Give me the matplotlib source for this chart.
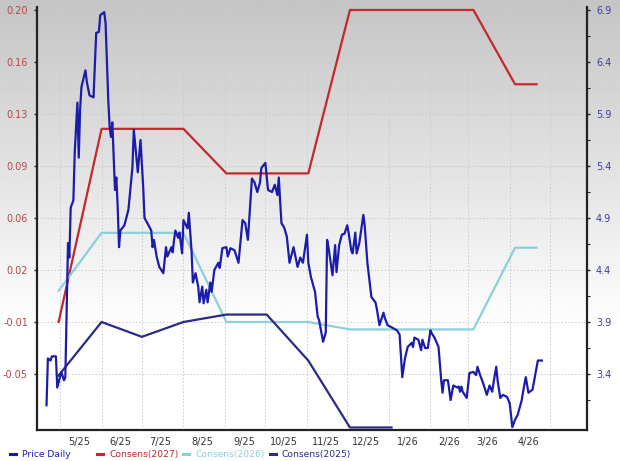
import numpy as np
import pandas as pd
import matplotlib
matplotlib.use("Agg")
import matplotlib.pyplot as plt
from matplotlib.lines import Line2D

# x positions are days counted from 2025-05-01
base = pd.Timestamp("2025-05-01")

price_days = [
    -10, -9, -7, -6, -3, -2, -1, 1, 3, 4,
    6, 7, 8, 10, 11, 13, 14, 15, 16, 19,
    20, 22, 25, 27, 29, 30, 33, 34, 36, 37,
    38, 39, 41, 42, 43, 44, 45, 48, 51, 54,
    55, 58, 60, 62, 63, 66, 68, 69, 70, 72,
    74, 77, 79, 80, 83, 84, 85, 86, 88, 89,
    91, 92, 95, 96, 98, 99, 101, 103, 104, 106,
    107, 109, 110, 112, 113, 115, 118, 119, 121, 124,
    125, 127, 130, 133, 136, 138, 140, 143, 145, 147,
    149, 150, 153, 155, 158, 160, 162, 163, 165, 167,
    169, 171, 174, 177, 179, 181, 184, 185, 187, 190,
    192, 193, 194, 196, 198, 199, 200, 203, 205, 206,
    208, 210, 212, 214, 215, 217, 218, 220, 221, 223,
    226, 227, 229, 232, 235, 236, 238, 241, 242, 244,
    247, 251, 253, 255, 257, 259, 262, 263, 264, 267,
    269, 270, 272, 274, 276, 277, 279, 282, 284, 285,
    286, 289, 291, 293, 296, 297, 298, 299, 300, 303,
    305, 308, 310, 311, 313, 315, 318, 320, 322, 323,
    325, 326, 328, 330, 333, 335, 337, 339, 341, 344,
    345, 347, 349, 352, 354, 356, 359,
]
price_vals = [
    3.10, 3.55, 3.53, 3.57, 3.57, 3.27, 3.32, 3.42, 3.34, 3.37,
    4.66, 4.52, 5.00, 5.07, 5.53, 6.01, 5.48, 5.94, 6.16, 6.32,
    6.21, 6.08, 6.06, 6.68, 6.69, 6.85, 6.88, 6.77, 6.03, 5.78,
    5.68, 5.82, 5.17, 5.29, 5.01, 4.62, 4.78, 4.83, 4.98, 5.39,
    5.75, 5.34, 5.65, 5.20, 4.90, 4.83, 4.78, 4.62, 4.69, 4.53,
    4.43, 4.37, 4.62, 4.53, 4.62, 4.57, 4.69, 4.78, 4.71, 4.76,
    4.56, 4.88, 4.80, 4.95, 4.59, 4.28, 4.37, 4.24, 4.09, 4.24,
    4.08, 4.21, 4.09, 4.28, 4.19, 4.40, 4.47, 4.42, 4.61, 4.62,
    4.53, 4.61, 4.59, 4.47, 4.88, 4.85, 4.69, 5.28, 5.24, 5.15,
    5.24, 5.38, 5.43, 5.17, 5.15, 5.22, 5.12, 5.29, 4.85, 4.81,
    4.72, 4.47, 4.62, 4.43, 4.52, 4.47, 4.74, 4.47, 4.33, 4.19,
    3.95, 3.92, 3.85, 3.71, 3.80, 4.69, 4.62, 4.35, 4.64, 4.38,
    4.64, 4.74, 4.75, 4.83, 4.76, 4.59, 4.56, 4.76, 4.56, 4.66,
    4.93, 4.83, 4.47, 4.14, 4.09, 4.03, 3.87, 3.99, 3.94, 3.87,
    3.85, 3.82, 3.78, 3.37, 3.55, 3.66, 3.70, 3.66, 3.75, 3.73,
    3.63, 3.73, 3.65, 3.65, 3.82, 3.79, 3.75, 3.66, 3.34, 3.22,
    3.34, 3.34, 3.15, 3.29, 3.27, 3.28, 3.23, 3.28, 3.23, 3.17,
    3.41, 3.42, 3.39, 3.47, 3.39, 3.32, 3.20, 3.29, 3.23, 3.32,
    3.47, 3.34, 3.17, 3.20, 3.18, 3.12, 2.89, 2.96, 3.01, 3.15,
    3.23, 3.37, 3.22, 3.25, 3.39, 3.53, 3.53,
]

cons_days = [-1, 31, 92, 124, 185, 216, 308, 339, 355]
cons_2027 = [-0.010, 0.120, 0.120, 0.090, 0.090, 0.200, 0.200, 0.150, 0.150]
cons_2026 = [0.011, 0.050, 0.050, -0.010, -0.010, -0.015, -0.015, 0.040, 0.040]
cons25_days = [-1, 31, 61, 92, 124, 154, 185, 216, 247]
cons_2025 = [-0.046, -0.010, -0.020, -0.010, -0.005, -0.005, -0.036, -0.081, -0.081]

left_ticks = [0.2, 0.165, 0.13, 0.095, 0.06, 0.025, -0.01, -0.045]
left_labels = ["0.20", "0.16", "0.13", "0.09", "0.06", "0.02", "-0.01", "-0.05"]
right_ticks = [6.9, 6.4, 5.9, 5.4, 4.9, 4.4, 3.9, 3.4]
right_labels = ["6.9", "6.4", "5.9", "5.4", "4.9", "4.4", "3.9", "3.4"]
month_labels = ["5/25", "6/25", "7/25", "8/25", "9/25", "10/25",
                "11/25", "12/25", "1/26", "2/26", "3/26", "4/26"]

legend_names = ["Price Daily", "Consens(2027)", "Consens(2026)", "Consens(2025)"]

c_price = "#1c1caa"
c_2027 = "#c2292b"
c_2026 = "#8ccfdc"
c_2025 = "#2a2a88"


def to_dates(days):
    return base + pd.to_timedelta(days, unit="D")


fig = plt.figure(figsize=(6.2, 4.61), dpi=100)

# background gradient grey -> white
bg = fig.add_axes([0, 0, 1, 1], zorder=-5)
grad = np.clip(np.linspace(0.0, 1.0, 300) / 0.72, 0, 1)
shade = 0.77 + 0.23 * grad
bg.imshow(np.repeat(shade[:, None], 2, axis=1), cmap="gray", vmin=0, vmax=1,
          aspect="auto", extent=[0, 1, 0, 1], origin="upper")
bg.axis("off")

ax = fig.add_axes([37 / 620, 31 / 461, 550 / 620, 423 / 461])
ax.patch.set_alpha(0)
ax2 = ax.twinx()
ax2.patch.set_alpha(0)

lw = 1.6
ax.plot(to_dates(cons_days), cons_2027, color=c_2027, lw=lw)
ax.plot(to_dates(cons_days), cons_2026, color=c_2026, lw=lw)
ax.plot(to_dates(cons25_days), cons_2025, color=c_2025, lw=lw)
ax2.plot(to_dates(price_days), price_vals, color=c_price, lw=lw)

ax.set_xlim(to_dates([-17.1])[0], to_dates([392.6])[0])
ax.set_ylim(-0.0827, 0.202)
ax2.set_ylim(2.862, 6.929)

# month gridlines, labels mid-month
month_starts = pd.date_range("2025-05-01", "2026-05-01", freq="MS")
mid_months = pd.date_range("2025-05-01", "2026-04-01", freq="MS") + pd.Timedelta(days=14)
ax.set_xticks(month_starts)
ax.set_xticklabels([""] * len(month_starts))
ax.set_xticks(mid_months, minor=True)
ax.set_xticklabels(month_labels, minor=True)
ax.tick_params(axis="x", which="both", length=0, labelsize=7, labelcolor="#333333", pad=5)

ax.set_yticks(left_ticks)
ax.set_yticklabels(left_labels)
ax.tick_params(axis="y", length=2.5, width=1, color="#222222", labelsize=7,
               labelcolor="#b04848", pad=4)

ax2.set_yticks(right_ticks)
ax2.set_yticklabels(right_labels)
ax2.set_yticks([6.65, 6.15, 5.65, 5.15, 4.65, 4.15, 3.65, 3.15], minor=True)
ax2.tick_params(axis="y", which="major", length=2.5, width=1, color="#222222",
                labelsize=7, labelcolor="#3c3c9c", pad=4)
ax2.tick_params(axis="y", which="minor", length=2, width=0.8, color="#222222")

ax.grid(True, which="major", color="#cacaca", ls=(0, (1.5, 2)), lw=0.7)

for a in (ax, ax2):
    a.spines["top"].set_visible(False)
ax.spines["right"].set_visible(False)
ax2.spines["left"].set_visible(False)
ax2.spines["bottom"].set_visible(False)
ax.spines["left"].set_linewidth(1.6)
ax.spines["bottom"].set_linewidth(1.6)
ax2.spines["right"].set_linewidth(1.6)
for s in (ax.spines["left"], ax.spines["bottom"], ax2.spines["right"]):
    s.set_color("#222222")

# legend row at the bottom
legend_colors = [c_price, c_2027, c_2026, c_2025]
legend_x = [10, 97, 183, 270]
y_leg = 7 / 461
for name, col, x0 in zip(legend_names, legend_colors, legend_x):
    fig.add_artist(Line2D([x0 / 620, (x0 + 6) / 620], [y_leg, y_leg],
                          color=col, lw=2.2, transform=fig.transFigure))
    fig.text((x0 + 12) / 620, y_leg, name, color=col, fontsize=6.6,
             va="center", ha="left")

fig.savefig("out.png", dpi=100)
